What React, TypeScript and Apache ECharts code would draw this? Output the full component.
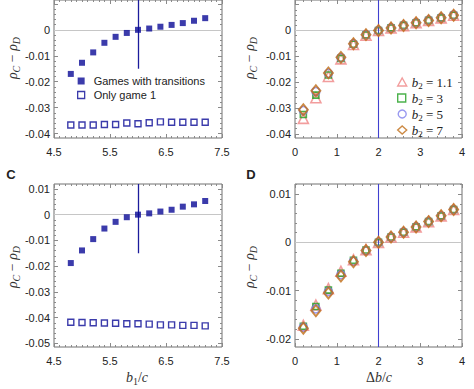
import React, { useEffect, useRef } from 'react';
import * as echarts from 'echarts';

// ---------- data ----------
const xAC = [4.8, 5.0, 5.2, 5.4, 5.6, 5.8, 6.0, 6.2, 6.4, 6.6, 6.8, 7.0, 7.2];
const aWith = [-0.017, -0.0127, -0.0087, -0.005, -0.0027, -0.0012, 0, 0.0005, 0.0012, 0.0019, 0.0026, 0.0035, 0.0045];
const aOnly = [-0.0367, -0.0367, -0.0367, -0.0365, -0.0365, -0.0359, -0.0362, -0.0358, -0.0355, -0.0356, -0.0356, -0.0356, -0.0356];
const cWith = [-0.0188, -0.0139, -0.0095, -0.0054, -0.0028, -0.001, 0, 0.0005, 0.0012, 0.0019, 0.0031, 0.004, 0.0053];
const cOnly = [-0.0418, -0.0419, -0.042, -0.0421, -0.0422, -0.0424, -0.0424, -0.0425, -0.0428, -0.0428, -0.043, -0.043, -0.0432];

const xBD = [0.2, 0.5, 0.8, 1.1, 1.4, 1.7, 2.0, 2.3, 2.6, 2.9, 3.2, 3.5, 3.8];
const bT = [-0.034, -0.026, -0.0178, -0.011, -0.0054, -0.0018, 0, 0.001, 0.0019, 0.003, 0.0039, 0.0049, 0.0059];
const bS = [-0.0325, -0.025, -0.0172, -0.0108, -0.0053, -0.0017, 0, 0.001, 0.002, 0.003, 0.0039, 0.0049, 0.0059];
const bC = [-0.031, -0.0236, -0.0166, -0.0105, -0.0052, -0.0016, 0, 0.001, 0.002, 0.003, 0.004, 0.005, 0.006];
const bD = [-0.0307, -0.0233, -0.0164, -0.0104, -0.0051, -0.0016, 0, 0.001, 0.0019, 0.003, 0.0039, 0.0049, 0.0059];
const dT = [-0.0172, -0.013, -0.0096, -0.006, -0.0036, -0.0015, 0, 0.0011, 0.0021, 0.0032, 0.0043, 0.0055, 0.0068];
const dS = [-0.0174, -0.0133, -0.0099, -0.0064, -0.0037, -0.0016, 0, 0.0011, 0.0021, 0.0032, 0.0043, 0.0055, 0.0068];
const dC = [-0.0176, -0.0138, -0.0102, -0.0067, -0.0039, -0.0017, 0, 0.0011, 0.0021, 0.0032, 0.0043, 0.0055, 0.0068];
const dD = [-0.0178, -0.0142, -0.0105, -0.007, -0.004, -0.0017, 0, 0.0011, 0.0021, 0.0032, 0.0043, 0.0055, 0.0068];

// tick labels
const xTicksAC = [4.5, 5.5, 6.5, 7.5];
const xTicksBD = [0, 1, 2, 3, 4];
const yTicksA = [0, -0.01, -0.02, -0.03, -0.04];
const yTicksB = [0, -0.01, -0.02, -0.03, -0.04];
const yTicksC = [0.01, 0, -0.01, -0.02, -0.03, -0.04, -0.05];
const yTicksD = [0.01, 0, -0.01, -0.02];

const seriesNamesAC = ['Games with transitions', 'Only game 1'];
const seriesNamesBD = ['b2 = 1.1', 'b2 = 3', 'b2 = 5', 'b2 = 7'];

// ---------- styling ----------
const SANS = 'Liberation Sans, Arial, Helvetica, sans-serif';
const SERIF = 'Liberation Serif, Times New Roman, serif';
const NAVY = '#0a0a96';
const VLINE_AC = '#1c1c9c';
const VLINE_BD = '#4040d0';
const ZERO = '#c6c6c6';
const FRAME = '#707070';
const TICK = '#8a8a8a';
const TEXT = '#222';

const panels = [
  { left: 54, top: -25, width: 168, height: 163, xMin: 4.5, xMax: 7.5, xLabels: xTicksAC, xMinor: 0.1, yMin: -0.0417, yMax: 0.0115, yLabels: yTicksA, xDec: 1 },
  { left: 295, top: -25, width: 167, height: 163, xMin: 0, xMax: 4, xLabels: xTicksBD, xMinor: 0.2, yMin: -0.0416, yMax: 0.0118, yLabels: yTicksB, xDec: 0 },
  { left: 54, top: 184, width: 168, height: 163, xMin: 4.5, xMax: 7.5, xLabels: xTicksAC, xMinor: 0.1, yMin: -0.0514, yMax: 0.0119, yLabels: yTicksC, xDec: 1 },
  { left: 295, top: 184, width: 167, height: 163, xMin: 0, xMax: 4, xLabels: xTicksBD, xMinor: 0.2, yMin: -0.0217, yMax: 0.0121, yLabels: yTicksD, xDec: 0 },
];

function ticksFrom(min: number, max: number, step: number) {
  const out: number[] = [];
  const k0 = Math.ceil(min / step - 1e-9);
  const k1 = Math.floor(max / step + 1e-9);
  for (let k = k0; k <= k1; k++) out.push(+(k * step).toFixed(6));
  return out;
}

const zip = (xs: number[], ys: number[]) => xs.map((x, i) => [x, ys[i]]);

function buildOption() {
  const grid: any[] = [];
  const xAxis: any[] = [];
  const yAxis: any[] = [];
  panels.forEach((p, g) => {
    grid.push({ left: p.left, top: p.top, width: p.width, height: p.height, show: true, borderColor: FRAME, borderWidth: 1, backgroundColor: 'transparent' });
    const xMajor = p.xLabels;
    const xMinor = ticksFrom(p.xMin, p.xMax, p.xMinor);
    const yMajor = ticksFrom(p.yMin, p.yMax, 0.01);
    const yMinor = ticksFrom(p.yMin, p.yMax, 0.002);
    const mkX = (position: string, ticks: number[], len: number, labels: boolean) => ({
      gridIndex: g, type: 'value', min: p.xMin, max: p.xMax, position,
      axisLine: { show: false, onZero: false }, splitLine: { show: false },
      axisTick: { show: true, inside: true, length: len, customValues: ticks, lineStyle: { color: TICK, width: 1 } },
      axisLabel: labels
        ? { show: true, customValues: p.xLabels, formatter: (v: number) => v.toFixed(p.xDec), margin: 8, fontSize: 11, color: TEXT, fontFamily: SANS }
        : { show: false },
      silent: true,
    });
    const mkY = (position: string, ticks: number[], len: number, labels: boolean) => ({
      gridIndex: g, type: 'value', min: p.yMin, max: p.yMax, position,
      axisLine: { show: false, onZero: false }, splitLine: { show: false },
      axisTick: { show: true, inside: true, length: len, customValues: ticks, lineStyle: { color: TICK, width: 1 } },
      axisLabel: labels
        ? { show: true, customValues: p.yLabels, formatter: (v: number) => (Math.abs(v) < 1e-9 ? '0' : v.toFixed(2)), margin: 4, fontSize: 11, color: TEXT, fontFamily: SANS }
        : { show: false },
      silent: true,
    });
    xAxis.push(mkX('bottom', xMajor, 4, true), mkX('bottom', xMinor, 2, false), mkX('top', xMajor, 4, false), mkX('top', xMinor, 2, false));
    yAxis.push(mkY('left', yMajor, 4, true), mkY('left', yMinor, 2, false), mkY('right', yMajor, 4, false), mkY('right', yMinor, 2, false));
  });

  const ax = (g: number) => ({ xAxisIndex: g * 4, yAxisIndex: g * 4 });

  const guide = (g: number, vx: number, vFrom: number | null, color: string, width: number) => {
    const p = panels[g];
    return {
      type: 'scatter', name: 'guide' + g, ...ax(g), data: [], z: 1, silent: true,
      markLine: {
        silent: true, symbol: ['none', 'none'], label: { show: false }, animation: false, z: 1,
        data: [
          { yAxis: 0, lineStyle: { color: ZERO, width: 1, type: 'solid' } },
          [
            { coord: [vx, vFrom === null ? p.yMin : vFrom], lineStyle: { color, width, type: 'solid' } },
            { coord: [vx, p.yMax] },
          ],
        ],
      },
    };
  };

  const filledSq = (g: number, name: string, ys: number[]) => ({
    type: 'scatter', name, ...ax(g), data: zip(xAC, ys), symbol: 'rect', symbolSize: 6, z: 10,
    itemStyle: { color: NAVY },
  });
  const openSq = (g: number, name: string, ys: number[]) => ({
    type: 'scatter', name, ...ax(g), data: zip(xAC, ys), symbol: 'rect', symbolSize: 6, z: 10,
    itemStyle: { color: '#ffffff', borderColor: NAVY, borderWidth: 1.4 },
  });
  const bdStyles = [
    { symbol: 'triangle', size: 10, color: '#ef8585' },
    { symbol: 'rect', size: 6, color: '#1f9f1f' },
    { symbol: 'circle', size: 8, color: '#7f7fec' },
    { symbol: 'diamond', size: [9, 11], color: '#bf6d16' },
  ];
  const bdSeries = (g: number, sets: number[][]) =>
    sets.map((ys, i) => ({
      type: 'scatter', name: seriesNamesBD[i], ...ax(g), data: zip(xBD, ys),
      symbol: bdStyles[i].symbol, symbolSize: bdStyles[i].size, z: 10 + i,
      itemStyle: { color: 'rgba(255,255,255,0)', borderColor: bdStyles[i].color, borderWidth: i === 3 ? 1.9 : 1.6 },
    }));

  const series: any[] = [
    guide(0, 6, -0.015, VLINE_AC, 1.3),
    guide(1, 2, null, VLINE_BD, 1.1),
    guide(2, 6, -0.015, VLINE_AC, 1.3),
    guide(3, 2, null, VLINE_BD, 1.1),
    filledSq(0, seriesNamesAC[0], aWith),
    openSq(0, seriesNamesAC[1], aOnly),
    filledSq(2, seriesNamesAC[0], cWith),
    openSq(2, seriesNamesAC[1], cOnly),
    ...bdSeries(1, [bT, bS, bC, bD]),
    ...bdSeries(3, [dT, dS, dC, dD]),
  ];

  const richMath = {
    i: { fontFamily: SERIF, fontStyle: 'italic', fontSize: 14, lineHeight: 18, color: '#333' },
    n: { fontFamily: SERIF, fontSize: 14, lineHeight: 18, color: '#333' },
    s: { fontFamily: SERIF, fontStyle: 'italic', fontSize: 10, lineHeight: 18, padding: [8, 0, 0, 0], color: '#333' },
    sn: { fontFamily: SERIF, fontSize: 10, lineHeight: 18, padding: [8, 0, 0, 0], color: '#333' },
  };
  const yTitle = '{i|ρ}{s|C}{n| − }{i|ρ}{s|D}';
  const yt = (x: number, y: number) => ({
    type: 'text', x, y, rotation: Math.PI / 2, silent: true,
    style: { text: yTitle, rich: richMath, align: 'center', verticalAlign: 'middle', fill: '#333' },
  });

  const legendRich = {
    i: { fontFamily: SERIF, fontStyle: 'italic', fontSize: 13, lineHeight: 14, color: '#222' },
    n: { fontFamily: SERIF, fontSize: 13, lineHeight: 14, color: '#222' },
    s: { fontFamily: SERIF, fontSize: 9, lineHeight: 14, padding: [7, 0, 0, 0], color: '#222' },
  };

  return {
    animation: false,
    backgroundColor: '#ffffff',
    grid,
    xAxis,
    yAxis,
    legend: [
      {
        left: 77, top: 75, padding: 0, orient: 'vertical', itemWidth: 11, itemHeight: 7, itemGap: 2, selectedMode: false,
        data: [{ name: seriesNamesAC[0], icon: 'square' }, { name: seriesNamesAC[1], icon: 'square' }],
        itemStyle: { borderWidth: 1.3 },
        textStyle: { fontSize: 11, lineHeight: 12, fontFamily: SANS, color: TEXT },
      },
      {
        left: 397, top: 74, padding: 0, orient: 'vertical', itemWidth: 9, itemHeight: 8, itemGap: 0, selectedMode: false,
        data: [
          { name: seriesNamesBD[0], icon: 'triangle' },
          { name: seriesNamesBD[1], icon: 'square' },
          { name: seriesNamesBD[2], icon: 'circle' },
          { name: seriesNamesBD[3], icon: 'diamond' },
        ],
        itemStyle: { borderWidth: 1.4 },
        formatter: (name: string) => '{i|b}{s|2}{n| = ' + name.split('= ')[1] + '}',
        textStyle: { rich: legendRich, lineHeight: 14 },
      },
    ],
    graphic: [
      yt(12, 58),
      yt(249, 58),
      yt(12, 267),
      yt(249, 267),
      {
        type: 'text', x: 137, y: 377, silent: true,
        style: { text: '{i|b}{sn|1}{n|/}{i|c}', rich: richMath, align: 'center', verticalAlign: 'middle', fill: '#333' },
      },
      {
        type: 'text', x: 379, y: 377, silent: true,
        style: { text: '{n|Δ}{i|b}{n|/}{i|c}', rich: richMath, align: 'center', verticalAlign: 'middle', fill: '#333' },
      },
      { type: 'text', x: 11, y: 174, silent: true, style: { text: 'C', font: 'bold 13px ' + SANS, fill: TEXT, align: 'center', verticalAlign: 'middle' } },
      { type: 'text', x: 251, y: 174, silent: true, style: { text: 'D', font: 'bold 13px ' + SANS, fill: TEXT, align: 'center', verticalAlign: 'middle' } },
    ],
    series,
  };
}

export default function App() {
  const ref = useRef<HTMLDivElement>(null);
  useEffect(() => {
    const chart = echarts.init(ref.current!, null, { renderer: 'svg' });
    chart.setOption(buildOption() as any);
    return () => chart.dispose();
  }, []);
  return <div ref={ref} style={{ position: 'absolute', left: 0, top: 0, width: 474, height: 389 }} />;
}
